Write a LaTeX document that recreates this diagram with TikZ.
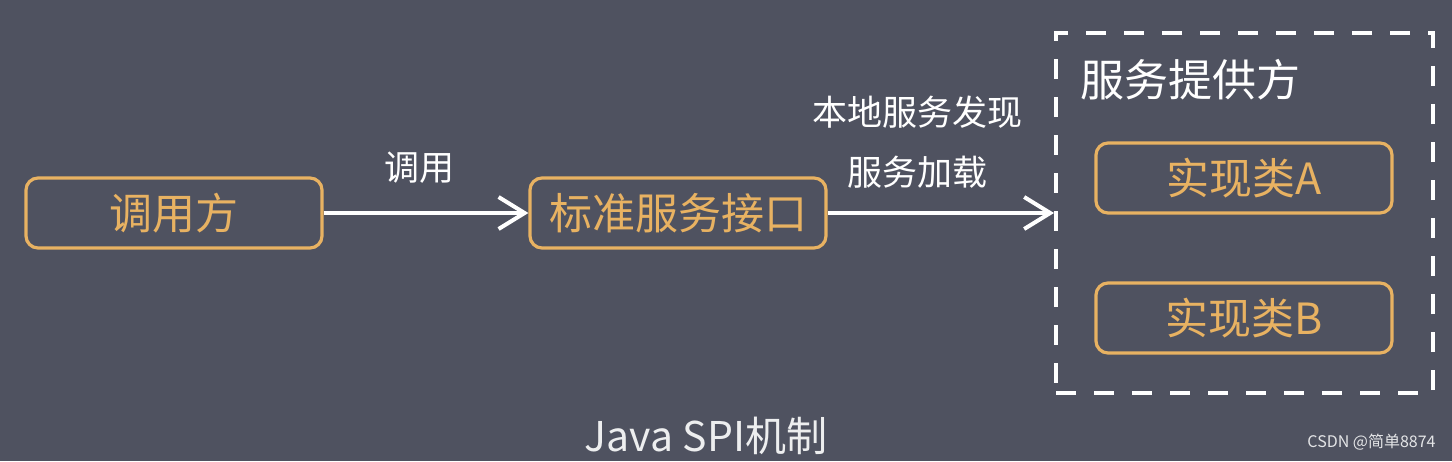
\documentclass[tikz,border=0pt]{standalone}
\usepackage{fontspec}
\setmainfont{Noto Sans CJK SC}
\usepackage{tikz}
\usetikzlibrary{arrows.meta}
\usetikzlibrary{positioning}
\definecolor{slate}{RGB}{79,82,96}
\definecolor{amber}{RGB}{232,178,98}
\colorlet{caption}{white!90!slate}

\begin{document}
\begin{tikzpicture}[
x=0.5pt,y=-0.5pt,
ClassBox/.style={draw=amber,line width=1.6pt,rounded corners=6pt,text=amber,
  font=\fontsize{21.5}{24}\selectfont,minimum width=148pt,minimum height=35pt,inner sep=0pt},
FlowArrow/.style={-{Straight Barb[length=13pt,width=16pt,line width=2pt]},white,line width=2pt},
FlowLabel/.style={text=white,font=\fontsize{17.5}{20}\selectfont,inner sep=0pt},
Provider/.style={draw=white,line width=2pt,dash pattern=on 10pt off 9pt,
  minimum width=188.5pt,minimum height=180pt,inner sep=0pt}
]
% background
\fill[slate] (0,0) rectangle (1452,461);
\useasboundingbox (0,0) rectangle (1452,461);

% the boxes
\node[ClassBox] (caller) at (174,213) {调用方};
\node[ClassBox] (iface) at (678,213) {标准服务接口};

\node[Provider] (provider) at (1244.5,213) {};
\node[text=white,font=\fontsize{22}{24}\selectfont,inner sep=0pt,anchor=west] (providerTitle) at (1080,80) {服务提供方};
\node[ClassBox] (implA) at (1244,178) {实现类A};
\node[ClassBox] (implB) at (1244,318) {实现类B};

% the arrows
\draw[FlowArrow] (caller.east) -- (iface.west);
\draw[FlowArrow] (iface.east) -- (provider.west);

\node[FlowLabel] (callLabel) at (419,168) {调用};
\node[FlowLabel] (discoverLabel) at (917,112) {本地服务发现};
\node[FlowLabel] (loadLabel) at (917,172) {服务加载};

% caption
\node[text=caption,font=\fontsize{20.5}{22}\selectfont,inner sep=0pt] (title) at (706,436) {Java SPI机制};
\node[text=white!85!slate,font=\fontsize{8}{10}\selectfont,inner sep=0pt,anchor=east] (mark) at (1436,442) {CSDN @简单8874};

\end{tikzpicture}
\end{document}
